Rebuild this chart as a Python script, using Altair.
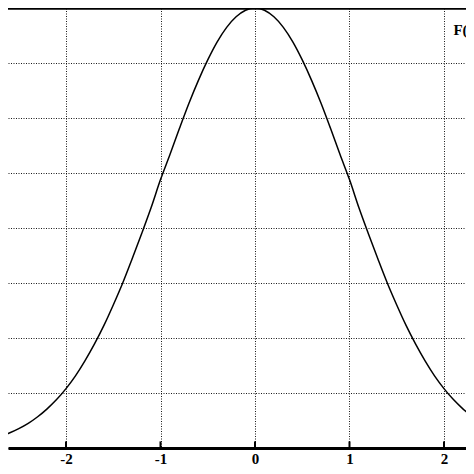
import altair as alt
import pandas as pd

# curve values
xs = [-2.8, -2.7, -2.6, -2.5, -2.4, -2.3, -2.2, -2.1, -2.0, -1.9, -1.8, -1.7, -1.6, -1.5,
      -1.4, -1.3, -1.2, -1.1, -1.0, -0.9, -0.8, -0.7, -0.6, -0.5, -0.4, -0.3, -0.2, -0.1,
      0.0, 0.1, 0.2, 0.3, 0.4, 0.5, 0.6, 0.7, 0.8, 0.9, 1.0, 1.1, 1.2, 1.3, 1.4, 1.5,
      1.6, 1.7, 1.8, 1.9, 2.0, 2.1, 2.2, 2.3, 2.4]
ys = [0.020, 0.026, 0.034, 0.044, 0.056, 0.071, 0.089, 0.110, 0.135, 0.164, 0.198, 0.236,
      0.278, 0.325, 0.375, 0.430, 0.487, 0.546, 0.610, 0.667, 0.726, 0.783, 0.835, 0.882,
      0.923, 0.956, 0.980, 0.995, 1.000, 0.995, 0.980, 0.956, 0.923, 0.882, 0.835, 0.783,
      0.726, 0.667, 0.610, 0.546, 0.487, 0.430, 0.375, 0.325, 0.278, 0.236, 0.198, 0.164,
      0.135, 0.110, 0.089, 0.071, 0.056]

x_ticks = [-2, -1, 0, 1, 2]
y_grid = [0, 0.125, 0.25, 0.375, 0.5, 0.625, 0.75, 0.875, 1.0]
top_line = [1.0]
note_text = ["F(x)"]
note_x = [2.10]
note_y = [0.938]

curve_df = pd.DataFrame({"x": xs, "y": ys})
tick_df = pd.DataFrame({"x": x_ticks, "y0": [0.0] * len(x_ticks), "y1": [0.015] * len(x_ticks)})
top_df = pd.DataFrame({"y": top_line})
note_df = pd.DataFrame({"x": note_x, "y": note_y, "t": note_text})

xscale = alt.Scale(domain=[-2.614, 2.233], nice=False, zero=False)
yscale = alt.Scale(domain=[0, 1], nice=False, zero=False)

FONT = "Liberation Serif"
GRID_DASH = [1, 1.5]

curve = alt.Chart(curve_df).mark_line(
    color="black", strokeWidth=1.5, interpolate="monotone", clip=True
).encode(
    x=alt.X("x:Q", scale=xscale, axis=alt.Axis(
        values=x_ticks, grid=True, gridDash=GRID_DASH, gridColor="black", gridWidth=1,
        gridOpacity=0.9,
        domainColor="black", domainWidth=3, ticks=False,
        labelFont=FONT, labelFontWeight="bold", labelFontSize=15, labelColor="black",
        labelPadding=3, labelBaseline="top", title=None,
        labelExpr="datum.value < 0 ? '-' + abs(datum.value) : '' + datum.value")),
    y=alt.Y("y:Q", scale=yscale, axis=alt.Axis(
        values=y_grid, grid=True, gridDash=GRID_DASH, gridColor="black", gridWidth=1,
        gridOpacity=0.9,
        labels=False, ticks=False, domain=False, title=None)),
)

ticks = alt.Chart(tick_df).mark_rule(color="black", strokeWidth=2).encode(
    x=alt.X("x:Q", scale=xscale),
    y=alt.Y("y0:Q", scale=yscale),
    y2="y1:Q",
)

top = alt.Chart(top_df).mark_rule(color="black", strokeWidth=3.5).encode(
    y=alt.Y("y:Q", scale=yscale),
)

note = alt.Chart(note_df).mark_text(
    font=FONT, fontWeight="bold", fontSize=15, align="left", baseline="alphabetic",
    color="black"
).encode(
    x=alt.X("x:Q", scale=xscale),
    y=alt.Y("y:Q", scale=yscale),
    text="t:N",
)

chart = alt.layer(curve, ticks, top, note).properties(
    width=458, height=440,
    autosize=alt.AutoSizeParams(type="none"),
    padding={"left": 0, "top": 0, "right": 0, "bottom": 18},
    background="white",
).configure_view(stroke=None)

chart.save("out.html", embed_options={"renderer": "svg", "actions": False})
